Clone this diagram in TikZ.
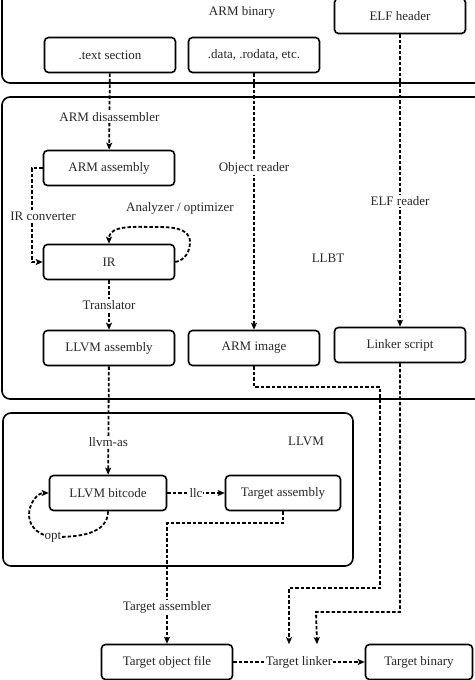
\documentclass[tikz,border=0pt]{standalone}
\usepackage{fontspec}
\setmainfont{Liberation Serif}
\usepackage{tikz}
\usetikzlibrary{calc, arrows.meta}

\begin{document}
\begin{tikzpicture}[x=1pt, y=-1pt,
		font=\fontsize{13}{15}\selectfont, text=black!85,
		box/.style = {draw=black, line width=1.6pt, rounded corners=4pt, minimum width=131pt, minimum height=35pt, inner sep=0pt},
		region/.style = {draw=black, line width=1.6pt, rounded corners=8pt},
		flow/.style = {line width=1.8pt, dash pattern=on 3.5pt off 2pt, -{Stealth[length=7pt, width=6pt, inset=1.5pt]}},
		stage/.style = {fill=white, inner sep=1pt}]
		\def\ca{109};
		\def\cb{254};
		\def\cc{400};
		
		\useasboundingbox (0,0) rectangle (474,680);
		
		\draw [region] (2,-20) rectangle (500,83);
		\draw [region] (2,97) rectangle (500,399);
		\draw [region] (3,413) rectangle (353,566);
		
		\node at (242,12) {ARM binary};
		\node at (328,258) {LLBT};
		\node at (306,441) {LLVM};
		
		\node [box] (text) at (110,55) {.text section};
		\node [box] (data) at (\cb,55) {.data, .rodata, etc.};
		\node [box] (elf) at (\cc,16) {ELF header};
		\node [box] (armasm) at (\ca,168) {ARM assembly};
		\node [box] (ir) at (\ca,262) {IR};
		\node [box] (llvmasm) at (\ca,348) {LLVM assembly};
		\node [box] (image) at (\cb,348) {ARM image};
		\node [box] (script) at (\cc,345) {Linker script};
		\node [box, minimum width=117pt] (bitcode) at (108,493) {LLVM bitcode};
		\node [box, minimum width=115pt] (tasm) at (283,493) {Target assembly};
		\node [box] (object) at (167,662) {Target object file};
		\node [box, minimum width=107pt] (binary) at (419,662) {Target binary};
		
		\draw [flow] (text) -- (armasm) node [stage, pos=0.57] {ARM disassembler};
		\draw [flow] (data) -- (image) node [stage, pos=0.37] {Object reader};
		\draw [flow] (elf) -- (script) node [stage, pos=0.57] {ELF reader};
		
		\draw [flow] (armasm.west) -- ++(-11,0) |- (ir.west);
		\node [stage] at (43,216) {IR converter};
		
		\draw [flow] (ir.east) to [out=10, in=-90] (190,242) to [out=90, in=0] (155,227) to [out=180, in=90] (ir.north);
		\node at (180,208) {Analyzer / optimizer};
		
		\draw [flow] (ir) -- (llvmasm) node [stage, midway] {Translator};
		\draw [flow] (llvmasm) -- (bitcode) node [stage, pos=0.7] {llvm-as};
		\draw [flow] (bitcode) -- (tasm) node [stage, midway] {llc};
		
		\draw [flow] (bitcode.south) to [out=-90, in=0] (55,537) to [out=180, in=-90] (29,515) to [out=90, in=180] (bitcode.west);
		\node [stage] at (53,537) {opt};
		
		\draw [flow] (tasm.south) -- ++(0,12) -| (object.north);
		\node [stage] at (167,607) {Target assembler};
		
		\draw [flow] (object) -- (binary) node [stage, midway] (linker) {Target linker};
		\draw [flow] (image.south) -- ++(0,21) -| (380,588) -| ([xshift=-10pt, yshift=10pt]linker.north);
		\draw [flow] (script.south) |- (316,612) -- ([xshift=18pt, yshift=10pt]linker.north);
	\end{tikzpicture}
\end{document}
